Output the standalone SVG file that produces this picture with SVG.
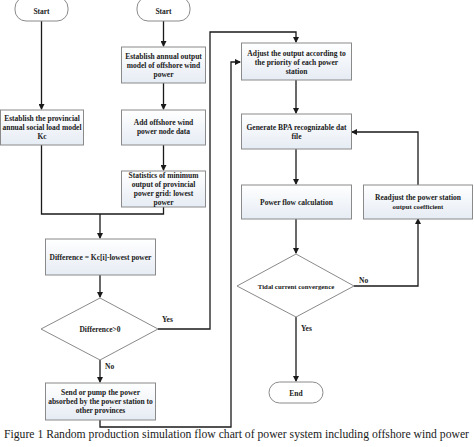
<svg xmlns="http://www.w3.org/2000/svg" width="474" height="447" viewBox="0 0 474 447">
<defs>
<linearGradient id="g" x1="0" y1="0" x2="0" y2="1">
<stop offset="0" stop-color="#ffffff"/>
<stop offset="1" stop-color="#e6ecf4"/>
</linearGradient>
<marker id="ah" markerWidth="6" markerHeight="6" refX="5" refY="3" orient="auto" markerUnits="userSpaceOnUse">
<path d="M0,0 L6,3 L0,6 Z" fill="#1a1a1a"/>
</marker>
</defs>
<style>
.box{fill:url(#g);stroke:#8a8a8a;stroke-width:1}
.term{fill:#ffffff;stroke:#8a8a8a;stroke-width:1}
.dia{fill:#ffffff;stroke:#8a8a8a;stroke-width:1}
.t{font-family:"Liberation Serif",serif;font-weight:bold;font-size:7.5px;fill:#1a1a1a;text-anchor:middle}
.s{font-size:6.8px}
.lbl{font-family:"Liberation Serif",serif;font-weight:bold;font-size:7.5px;fill:#1a1a1a}
.c{fill:none;stroke:#1a1a1a;stroke-width:1.3}
.cap{font-family:"Liberation Serif",serif;font-size:11.5px;fill:#1a1a1a}
</style>
<rect width="474" height="447" fill="#ffffff"/>
<g id="connectors">
<path class="c" d="M41.5,21 V109" marker-end="url(#ah)"/>
<path class="c" d="M163.5,21 V46" marker-end="url(#ah)"/>
<path class="c" d="M163.5,83 V109" marker-end="url(#ah)"/>
<path class="c" d="M163.5,145 V170" marker-end="url(#ah)"/>
<path class="c" d="M41.5,145 V214 H163.5 V207"/>
<path class="c" d="M100,214 V238" marker-end="url(#ah)"/>
<path class="c" d="M100,275 V297" marker-end="url(#ah)"/>
<path class="c" d="M158,329 H210 V32 H296 V42" marker-end="url(#ah)"/>
<path class="c" d="M100,360 V382" marker-end="url(#ah)"/>
<path class="c" d="M100,420 V427 H231 V62 H240" marker-end="url(#ah)"/>
<path class="c" d="M296,80 V113" marker-end="url(#ah)"/>
<path class="c" d="M296,149 V184" marker-end="url(#ah)"/>
<path class="c" d="M296,219 V253" marker-end="url(#ah)"/>
<path class="c" d="M354,286 H418 V219" marker-end="url(#ah)"/>
<path class="c" d="M418,185 V132 H352" marker-end="url(#ah)"/>
<path class="c" d="M296,317 V381" marker-end="url(#ah)"/>
<text class="lbl" x="162" y="322">Yes</text>
<text class="lbl" x="105" y="369">No</text>
<text class="lbl" x="359" y="283">No</text>
<text class="lbl" x="301" y="331">Yes</text>
</g>
<g id="start1">
<rect class="term" x="15" y="-3" width="53" height="24" rx="11"/>
<text class="t" x="41.5" y="13.5">Start</text>
</g>
<g id="start2">
<rect class="term" x="137" y="-3" width="53" height="24" rx="11"/>
<text class="t" x="163.5" y="13.5">Start</text>
</g>
<g id="load-model">
<rect class="box" x="0.5" y="110" width="83" height="35"/>
<text class="t" x="42" y="121">Establish the provincial</text>
<text class="t" x="42" y="130">annual social load model</text>
<text class="t" x="42" y="139">Kc</text>
</g>
<g id="wind-model">
<rect class="box" x="121.5" y="47" width="84" height="36"/>
<text class="t" x="163.5" y="59">Establish annual output</text>
<text class="t" x="163.5" y="68">model of offshore wind</text>
<text class="t" x="163.5" y="77">power</text>
</g>
<g id="node-data">
<rect class="box" x="121.5" y="110" width="84" height="35"/>
<text class="t" x="163.5" y="125">Add offshore wind</text>
<text class="t" x="163.5" y="134">power node data</text>
</g>
<g id="statistics">
<rect class="box" x="121.5" y="171" width="84" height="36"/>
<text class="t" x="163.5" y="178">Statistics of minimum</text>
<text class="t" x="163.5" y="187">output of provincial</text>
<text class="t" x="163.5" y="196">power grid:  lowest</text>
<text class="t" x="163.5" y="205">power</text>
</g>
<g id="difference">
<rect class="box" x="45.5" y="239" width="110" height="36"/>
<text class="t" x="100.5" y="259.5">Difference = Kc[i]-lowest power</text>
</g>
<g id="decision1">
<polygon class="dia" points="100,298 158,329 100,360 41,329"/>
<text class="t" x="100" y="331.5">Difference&gt;0</text>
</g>
<g id="send">
<rect class="box" x="45.5" y="383" width="110" height="37"/>
<text class="t" x="100.5" y="395">Send or pump the power</text>
<text class="t" x="100.5" y="404">absorbed by the power station to</text>
<text class="t" x="100.5" y="413">other provinces</text>
</g>
<g id="adjust">
<rect class="box" x="241.5" y="43" width="110" height="37"/>
<text class="t" x="296.5" y="56">Adjust the output according to</text>
<text class="t" x="296.5" y="65">the priority of each power</text>
<text class="t" x="296.5" y="74">station</text>
</g>
<g id="generate">
<rect class="box" x="241.5" y="114" width="110" height="35"/>
<text class="t" x="296.5" y="130">Generate BPA recognizable dat</text>
<text class="t" x="296.5" y="139">file</text>
</g>
<g id="powerflow">
<rect class="box" x="241.5" y="185" width="110" height="34"/>
<text class="t" x="296.5" y="204.5">Power flow calculation</text>
</g>
<g id="readjust">
<rect class="box" x="363.5" y="185" width="109" height="34"/>
<text class="t" x="418" y="200">Readjust the power station</text>
<text class="t s" x="418" y="209">output coefficient</text>
</g>
<g id="decision2">
<polygon class="dia" points="296,254 354,286 296,317 237,286"/>
<text class="t s" x="296" y="288.5">Tidal current convergence</text>
</g>
<g id="end">
<rect class="term" x="269" y="382" width="54" height="21" rx="10.5"/>
<text class="t" x="296" y="395.5">End</text>
</g>
<text class="cap" x="4" y="438" textLength="465" lengthAdjust="spacingAndGlyphs">Figure 1 Random production simulation flow chart of power system including offshore wind power</text>
</svg>
